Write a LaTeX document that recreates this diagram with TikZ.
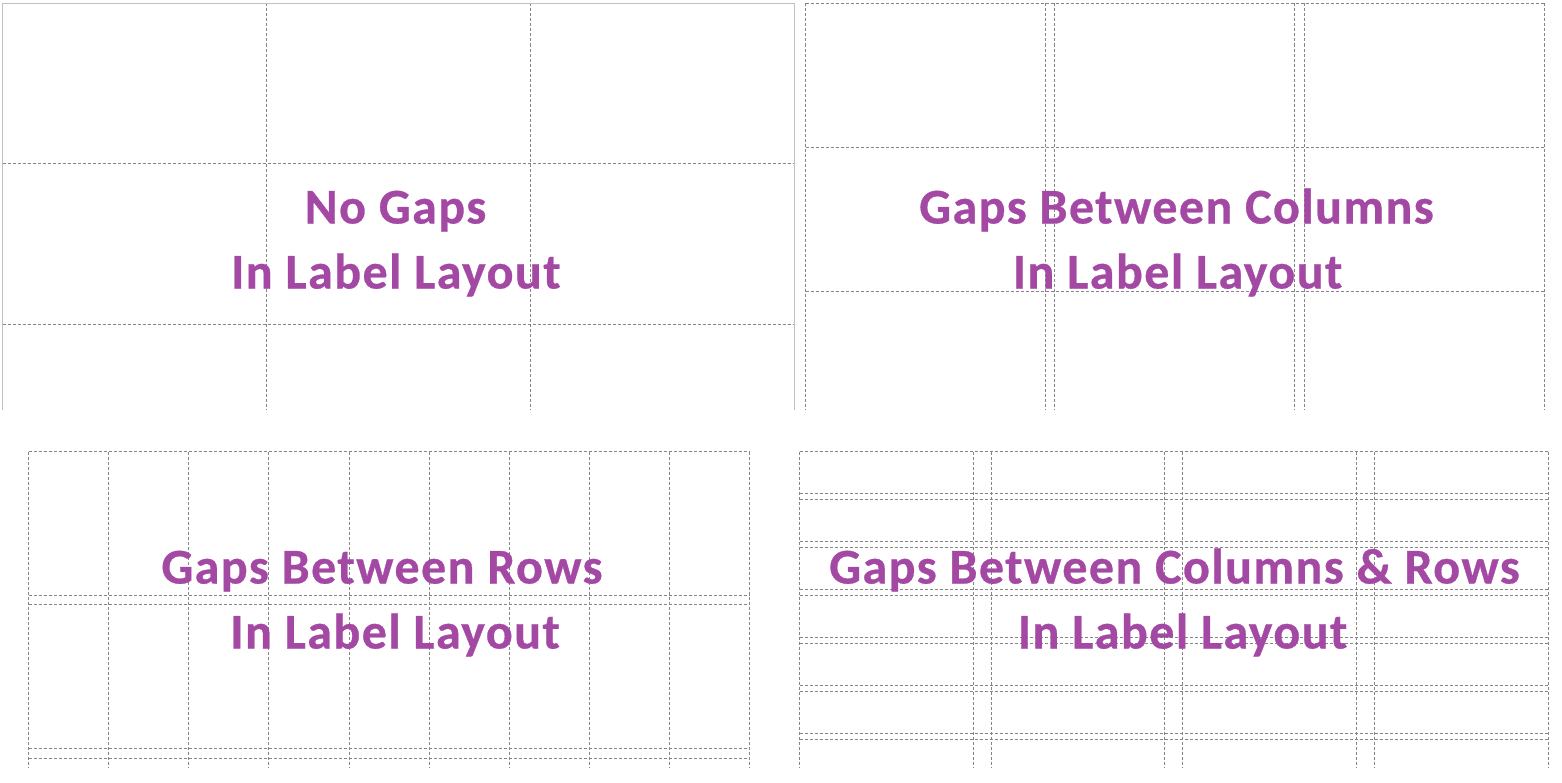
\documentclass[tikz,border=0pt]{standalone}
\usepackage{fontspec}
\setmainfont{Carlito}
\newfontfamily\lblfont{Carlito}[LetterSpace=2.9,BoldFeatures={FakeBold=0.6}]
\definecolor{lblpurple}{HTML}{A349A4}
\definecolor{gridgray}{HTML}{858585}
\definecolor{framegray}{HTML}{C0C0C0}
\tikzset{
  gridline/.style={draw=gridgray, line width=1.1bp, dash pattern=on 3bp off 2bp},
  frameline/.style={draw=framegray, line width=1.1bp},
  lbl/.style={inner sep=0pt, anchor=base, text=lblpurple, font=\lblfont\fontsize{50bp}{60bp}\selectfont\bfseries}
}
\begin{document}
\begin{tikzpicture}[x=1bp,y=-1bp]
\useasboundingbox (0,0) rectangle (1562,782);
% ---------- panel 1: no gaps ----------
\foreach \xx in {266.5,530.5} \draw[gridline] (\xx,3.5) -- (\xx,410);
\foreach \yy in {163.5,324.5} \draw[gridline] (2.5,\yy) -- (794.5,\yy);
\draw[frameline] (2.5,410) -- (2.5,3.5) -- (794.5,3.5) -- (794.5,410);
% ---------- panel 2: gaps between columns ----------
\foreach \xx in {805.5,1045.5,1054.5,1294.5,1304.5,1544.5} \draw[gridline] (\xx,3.5) -- (\xx,410);
\foreach \yy in {3.5,147.5,291.5} \draw[gridline] (805.5,\yy) -- (1544.5,\yy);
% ---------- panel 3: gaps between rows ----------
\foreach \xx in {28.5,108.5,188.5,268.5,349.5,429.5,509.5,589.5,669.5,749.5} \draw[gridline] (\xx,451.5) -- (\xx,768);
\foreach \yy in {451.5,595.5,604.5,748.5,758.5} \draw[gridline] (28.5,\yy) -- (749.5,\yy);
% ---------- panel 4: gaps between columns & rows ----------
\foreach \xx in {799.5,973.5,991.5,1164.5,1182.5,1356.5,1374.5,1548.5} \draw[gridline] (\xx,451.5) -- (\xx,768);
\foreach \yy in {451.5,493.5,499.5,541.5,547.5,589.5,595.5,637.5,643.5,685.5,691.5,733.5,739.5} \draw[gridline] (799.5,\yy) -- (1548.5,\yy);
% ---------- labels ----------
\node[lbl] (t1a) at (395.5,223.5) {No Gaps};
\node[lbl] (t1b) at (395.8,288.5) {In Label Layout};
\node[lbl] (t2a) at (1176.5,223.5) {Gaps Between Columns};
\node[lbl] (t2b) at (1177.5,288.5) {In Label Layout};
\node[lbl] (t3a) at (382,583.5) {Gaps Between Rows};
\node[lbl] (t3b) at (395,648.5) {In Label Layout};
\node[lbl] (t4a) at (1174.5,583.5) {Gaps Between Columns \& Rows};
\node[lbl] (t4b) at (1182.5,648.5) {In Label Layout};
\end{tikzpicture}
\end{document}
